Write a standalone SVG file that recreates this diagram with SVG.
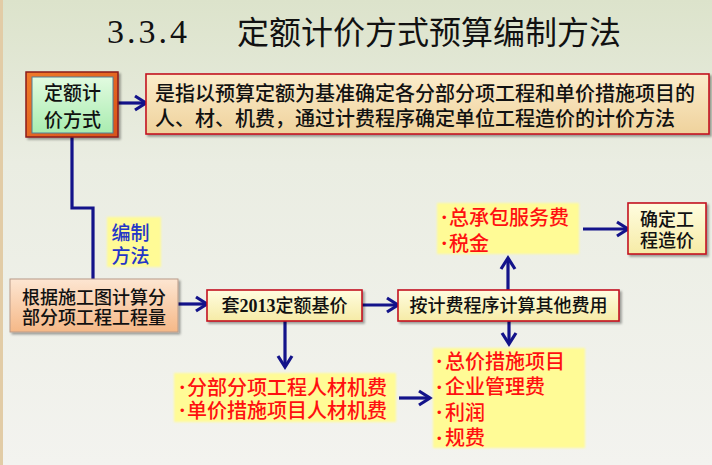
<svg xmlns="http://www.w3.org/2000/svg" width="712" height="465" viewBox="0 0 712 465">
<defs>
<linearGradient id="bg" x1="0" y1="0" x2="0" y2="1">
<stop offset="0" stop-color="#dce3cb"/>
<stop offset="0.35" stop-color="#eaede2"/>
<stop offset="1" stop-color="#f3f3ef"/>
</linearGradient>
<linearGradient id="green" x1="0" y1="0" x2="0" y2="1">
<stop offset="0" stop-color="#e2fbe0"/>
<stop offset="1" stop-color="#a9ecb0"/>
</linearGradient>
<linearGradient id="orange" x1="0" y1="0" x2="1" y2="1">
<stop offset="0" stop-color="#f07a2a"/>
<stop offset="1" stop-color="#d8531a"/>
</linearGradient>
<linearGradient id="tan" x1="0" y1="0" x2="0" y2="1">
<stop offset="0" stop-color="#fbeccb"/>
<stop offset="1" stop-color="#efd29c"/>
</linearGradient>
<linearGradient id="peach" x1="0" y1="0" x2="0" y2="1">
<stop offset="0" stop-color="#fde6d2"/>
<stop offset="1" stop-color="#f5b887"/>
</linearGradient>
<linearGradient id="lyel" x1="0" y1="0" x2="0" y2="1">
<stop offset="0" stop-color="#fffde0"/>
<stop offset="1" stop-color="#f6eba6"/>
</linearGradient>
<filter id="sh" x="-10%" y="-10%" width="130%" height="140%">
<feDropShadow dx="2" dy="2" stdDeviation="1.2" flood-color="#000" flood-opacity="0.35"/>
</filter>
<filter id="soft" x="-10%" y="-10%" width="120%" height="120%">
<feGaussianBlur stdDeviation="1.2"/>
</filter>
<marker id="arr" markerUnits="userSpaceOnUse" markerWidth="16" markerHeight="18" viewBox="0 0 16 18" refX="13" refY="9" orient="auto">
<path d="M2,2 L13,9 L2,16" fill="none" stroke="#13138a" stroke-width="3.2" stroke-linejoin="miter"/>
</marker>
</defs>
<style>
.t{font-family:"Noto Sans CJK SC","Noto Sans CJK JP",sans-serif;fill:#111;font-weight:500;}
.r{font-family:"Noto Sans CJK SC","Noto Sans CJK JP",sans-serif;fill:#ff1010;font-size:20px;font-weight:500;}
.b{font-family:"Liberation Sans",sans-serif;fill:#ff1010;font-size:13px;}
.ln{fill:none;stroke:#13138a;stroke-width:3.2;}
.box{stroke:#c4141e;stroke-width:1.6;}
.yel{fill:#fffb96;}
</style>
<rect width="712" height="465" fill="url(#bg)"/>
<rect x="0" y="0" width="3" height="465" fill="#e2cca6"/>
<g id="title">
<text x="107" y="43" font-family="Liberation Serif, serif" font-size="34" fill="#111" textLength="80" lengthAdjust="spacing">3.3.4</text>
<text x="237" y="44" font-family="Noto Sans CJK SC, sans-serif" font-size="32" fill="#111">定额计价方式预算编制方法</text>
</g>
<g id="connectors">
<line class="ln" x1="118" y1="103" x2="146" y2="103" marker-end="url(#arr)"/>
<polyline class="ln" points="72,137 72,208 93,208 93,279"/>
<line class="ln" x1="178" y1="304" x2="207" y2="304" marker-end="url(#arr)"/>
<line class="ln" x1="362" y1="305" x2="398" y2="305" marker-end="url(#arr)"/>
<line class="ln" x1="285" y1="321" x2="285" y2="367" marker-end="url(#arr)"/>
<line class="ln" x1="399" y1="398" x2="430" y2="398" marker-end="url(#arr)"/>
<line class="ln" x1="509" y1="321" x2="509" y2="344" marker-end="url(#arr)"/>
<line class="ln" x1="508" y1="290" x2="508" y2="258" marker-end="url(#arr)"/>
<line class="ln" x1="583" y1="229" x2="628" y2="229" marker-end="url(#arr)"/>
</g>
<g id="node-dingejijia">
<rect x="26" y="72" width="92" height="65" fill="url(#orange)" stroke="#8a1c1c" stroke-width="1.5" filter="url(#sh)"/>
<rect x="32" y="77" width="81" height="56" fill="url(#green)" stroke="#4f7f96" stroke-width="1"/>
<text class="t" font-size="19" text-anchor="middle"><tspan x="72.5" y="100">定额计</tspan><tspan x="72.5" y="127">价方式</tspan></text>
</g>
<g id="node-definition">
<rect x="146" y="74" width="563" height="60" fill="url(#tan)" class="box" filter="url(#sh)"/>
<text class="t" font-size="20"><tspan x="155" y="100.5">是指以预算定额为基准确定各分部分项工程和单价措施项目的</tspan><tspan x="155" y="125.5">人、材、机费，通过计费程序确定单位工程造价的计价方法</tspan></text>
</g>
<g id="label-bianzhi">
<rect x="107" y="217" width="54" height="50" class="yel" filter="url(#soft)"/>
<text font-family="Noto Sans CJK SC, sans-serif" font-size="19" font-weight="500" fill="#2436c8" text-anchor="middle"><tspan x="130.5" y="240">编制</tspan><tspan x="130.5" y="263">方法</tspan></text>
</g>
<g id="node-genju">
<rect x="10" y="279" width="168" height="53" fill="url(#peach)" stroke="#b89a88" stroke-width="1" filter="url(#sh)"/>
<text class="t" font-size="18" text-anchor="middle"><tspan x="94" y="303.5">根据施工图计算分</tspan><tspan x="94" y="324">部分项工程工程量</tspan></text>
</g>
<g id="node-tao">
<rect x="207" y="290" width="155" height="31" fill="url(#lyel)" class="box" filter="url(#sh)"/>
<text class="t" font-size="18" text-anchor="middle" x="284.5" y="311.5">套<tspan font-family="Liberation Serif, serif" font-weight="bold">2013</tspan>定额基价</text>
</g>
<g id="node-an">
<rect x="398" y="290" width="221" height="31" fill="url(#lyel)" class="box" filter="url(#sh)"/>
<text class="t" font-size="18" text-anchor="middle" x="508.5" y="312">按计费程序计算其他费用</text>
</g>
<g id="node-zongchengbao">
<rect x="437" y="203" width="142" height="51" class="yel" filter="url(#soft)"/>
<text class="b" x="442" y="222">•</text><text class="r" x="449" y="224.5">总承包服务费</text>
<text class="b" x="442" y="248">•</text><text class="r" x="449" y="250.5">税金</text>
</g>
<g id="node-queding">
<rect x="628" y="203" width="78" height="51" fill="url(#lyel)" class="box" filter="url(#sh)"/>
<text class="t" font-size="18" text-anchor="middle"><tspan x="667" y="226">确定工</tspan><tspan x="667" y="247">程造价</tspan></text>
</g>
<g id="node-fenbu">
<rect x="174" y="373" width="222" height="49" class="yel" filter="url(#soft)"/>
<text class="b" x="180" y="392">•</text><text class="r" x="187" y="394.5">分部分项工程人材机费</text>
<text class="b" x="180" y="415">•</text><text class="r" x="187" y="417.5">单价措施项目人材机费</text>
</g>
<g id="node-zongjia">
<rect x="433" y="348" width="152" height="100" class="yel" filter="url(#soft)"/>
<text class="b" x="437" y="366">•</text><text class="r" x="445" y="368.5">总价措施项目</text>
<text class="b" x="437" y="391.5">•</text><text class="r" x="445" y="394">企业管理费</text>
<text class="b" x="437" y="417">•</text><text class="r" x="445" y="419.5">利润</text>
<text class="b" x="437" y="442.5">•</text><text class="r" x="445" y="445">规费</text>
</g>
</svg>
